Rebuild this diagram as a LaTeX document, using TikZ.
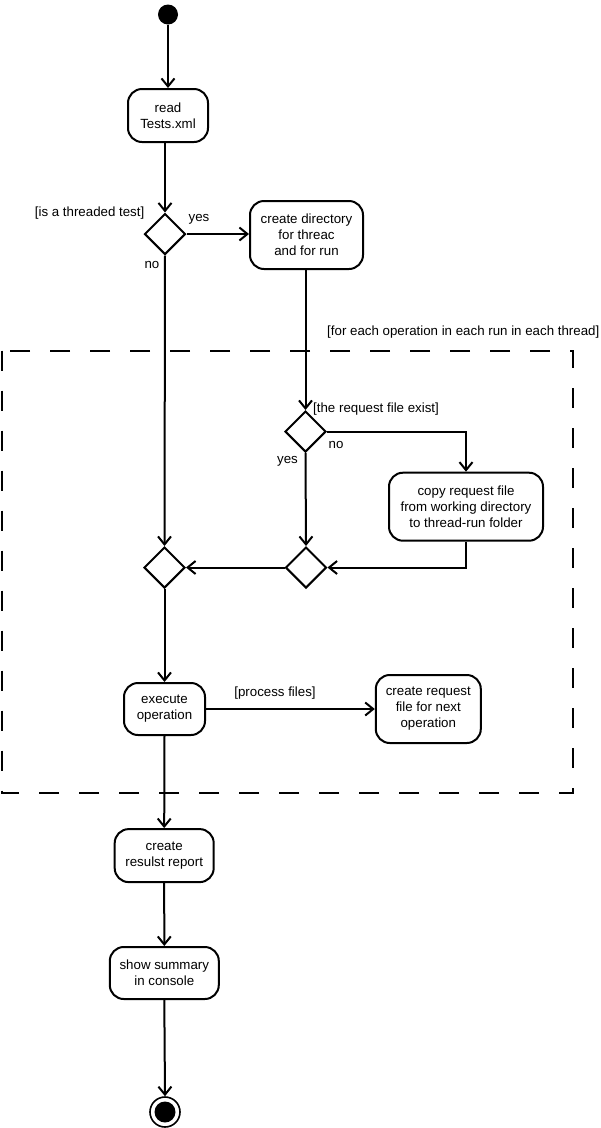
\documentclass[tikz,border=0pt]{standalone}
\usepackage{fontspec}
\setmainfont{Liberation Sans}
\usetikzlibrary{shapes.geometric, arrows.meta}
\begin{document}
\begin{tikzpicture}[x=1pt,y=-1pt,
  every node/.style={font=\fontsize{13.3}{16}\selectfont},
  act/.style={draw, line width=2pt, rounded corners=14pt, inner sep=0pt, align=center},
  dec/.style={draw, diamond, line width=2pt, minimum width=41pt, minimum height=41pt, inner sep=0pt},
  flow/.style={line width=2pt, -{Straight Barb[length=8pt,width=13pt,line width=2pt]}},
  lbl/.style={inner sep=0pt}]
\useasboundingbox (0,0) rectangle (601,1128);

\draw[line width=2.2pt, dash pattern=on 20pt off 20pt] (1.7,350.7) rectangle (573.3,793.3);

\node[circle, fill, inner sep=0pt, minimum size=20pt] (start) at (168,14.5) {};
\node[act, minimum width=80pt, minimum height=53pt] (read) at (168,115.5) {read\\Tests.xml};
\node[dec] (d1) at (165,234) {};
\node[act, minimum width=113pt, minimum height=68pt] (dir) at (306.5,235) {create directory\\for threac\\and for run};
\node[dec] (d2) at (305.5,431.5) {};
\node[act, minimum width=154pt, minimum height=68pt] (copy) at (466,506.7) {copy request file\\from working directory\\to thread-run folder};
\node[dec] (d4) at (306,567.5) {};
\node[dec] (d3) at (164.5,567.5) {};
\node[act, minimum width=81pt, minimum height=52pt] (exec) at (164.5,709) {execute\\operation};
\node[act, minimum width=105pt, minimum height=68pt] (req) at (428.3,709) {create request\\file for next\\operation};
\node[act, minimum width=99pt, minimum height=53pt] (report) at (164.2,855.6) {create\\resulst report};
\node[act, minimum width=109pt, minimum height=52pt] (summary) at (164.3,973) {show summary\\in console};
\node[circle, draw, line width=1.6pt, minimum size=30pt, inner sep=0pt] (end) at (165,1112) {};
\fill (end.center) circle (10.5pt);

\node[lbl, anchor=east] (lth) at (144.5,213) {[is a threaded test]};
\node[lbl] (lyes1) at (199,219.5) {yes};
\node[lbl] (lno1) at (152,265) {no};
\node[lbl, anchor=east] (lloop) at (599.5,332) {[for each operation in each run in each thread]};
\node[lbl, anchor=west] (lexist) at (313,409) {[the request file exist]};
\node[lbl] (lno2) at (336,445) {no};
\node[lbl] (lyes2) at (287.5,461) {yes};
\node[lbl] (lproc) at (275,692.7) {[process files]};

\draw[flow] (start) -- (read);
\draw[flow] (read.south -| d1) -- (d1.north);
\draw[flow] (d1.east) -- (d1.east -| dir.west);
\draw[flow] (dir.south -| d2) -- (d2.north);
\draw[flow] (d2.east) -| (copy.north);
\draw[flow] (d2.south) -- (d4.north);
\draw[flow] (copy.south) |- (d4.east);
\draw[flow] (d4.west) -- (d3.east);
\draw[flow] (d1.south) -- (d3.north);
\draw[flow] (d3.south) -- (exec.north);
\draw[flow] (exec.east) -- (req.west);
\draw[flow] (exec.south) -- (report.north);
\draw[flow] (report.south) -- (summary.north);
\draw[flow] (summary.south) -- (end.north);
\end{tikzpicture}
\end{document}
